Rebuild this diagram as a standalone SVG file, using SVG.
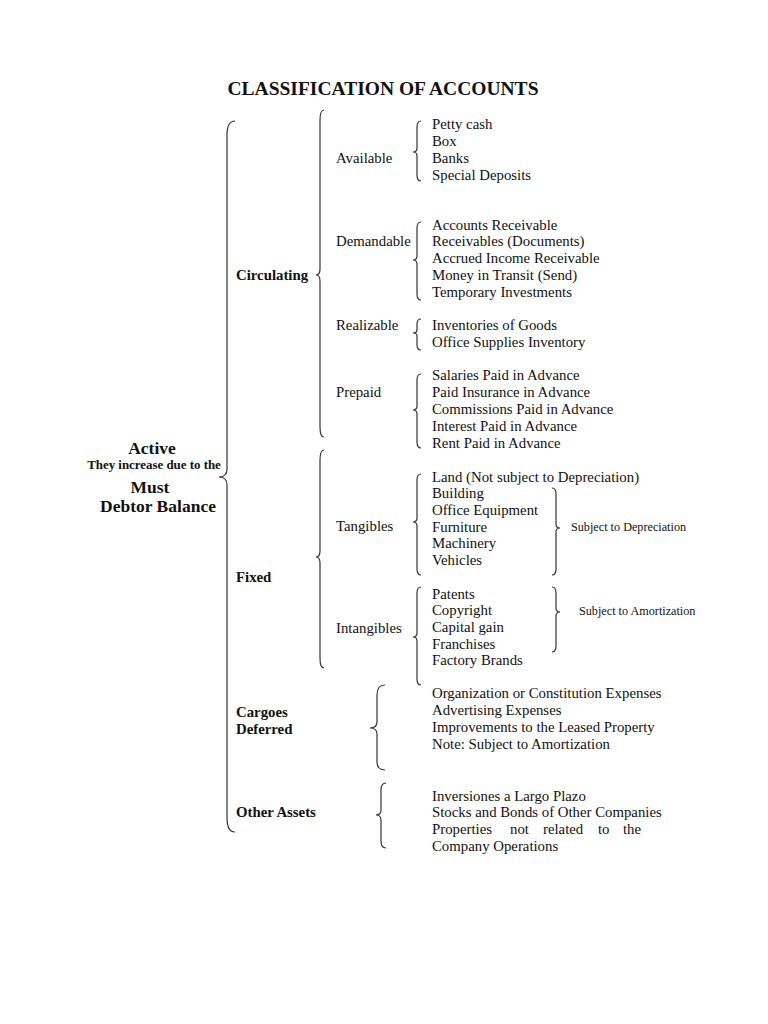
<svg xmlns="http://www.w3.org/2000/svg" width="768" height="1024" viewBox="0 0 768 1024">
<style>
text{font-family:"Liberation Serif","Times New Roman",serif;fill:#111}
.t{font-size:19.5px;font-weight:bold}
.b{font-weight:bold;font-size:14.8px}
.l2{font-size:14.8px}
.it{font-size:14.8px}
.sm{font-size:12.2px}
.br{fill:none;stroke:#333;stroke-width:1.2}
</style>
<rect width="768" height="1024" fill="#fff"/>
<text class="t" x="383" y="95" text-anchor="middle">CLASSIFICATION OF ACCOUNTS</text>
<g id="root">
<text x="152" y="454" text-anchor="middle" style="font-size:17.5px;font-weight:bold">Active</text>
<text x="154" y="469" text-anchor="middle" style="font-size:12.9px;font-weight:bold">They increase due to the</text>
<text x="150" y="493" text-anchor="middle" style="font-size:17.5px;font-weight:bold">Must</text>
<text x="158" y="512" text-anchor="middle" style="font-size:17.5px;font-weight:bold">Debtor Balance</text>
</g>
<g id="circulating"><text class="b" x="236" y="280">Circulating</text></g>
<g id="fixed"><text class="b" x="236" y="582">Fixed</text></g>
<g id="cargoes"><text class="b" x="236" y="717">Cargoes</text><text class="b" x="236" y="734">Deferred</text></g>
<g id="other"><text class="b" x="236" y="817">Other Assets</text></g>
<g id="available"><text class="l2" x="336" y="163">Available</text></g>
<g id="demandable"><text class="l2" x="336" y="246">Demandable</text></g>
<g id="realizable"><text class="l2" x="336" y="330">Realizable</text></g>
<g id="prepaid"><text class="l2" x="336" y="397">Prepaid</text></g>
<g id="tangibles"><text class="l2" x="336" y="531">Tangibles</text></g>
<g id="intangibles"><text class="l2" x="336" y="633">Intangibles</text></g>
<g id="available-items">
<text class="it" x="432" y="129">Petty cash</text>
<text class="it" x="432" y="146">Box</text>
<text class="it" x="432" y="163">Banks</text>
<text class="it" x="432" y="180">Special Deposits</text>
</g>
<g id="demandable-items">
<text class="it" x="432" y="230">Accounts Receivable</text>
<text class="it" x="432" y="246">Receivables (Documents)</text>
<text class="it" x="432" y="263">Accrued Income Receivable</text>
<text class="it" x="432" y="280">Money in Transit (Send)</text>
<text class="it" x="432" y="297">Temporary Investments</text>
</g>
<g id="realizable-items">
<text class="it" x="432" y="330">Inventories of Goods</text>
<text class="it" x="432" y="347">Office Supplies Inventory</text>
</g>
<g id="prepaid-items">
<text class="it" x="432" y="380">Salaries Paid in Advance</text>
<text class="it" x="432" y="397">Paid Insurance in Advance</text>
<text class="it" x="432" y="414">Commissions Paid in Advance</text>
<text class="it" x="432" y="431">Interest Paid in Advance</text>
<text class="it" x="432" y="448">Rent Paid in Advance</text>
</g>
<g id="tangibles-items">
<text class="it" x="432" y="482">Land (Not subject to Depreciation)</text>
<text class="it" x="432" y="498">Building</text>
<text class="it" x="432" y="515">Office Equipment</text>
<text class="it" x="432" y="532">Furniture</text>
<text class="it" x="432" y="548">Machinery</text>
<text class="it" x="432" y="565">Vehicles</text>
</g>
<g id="depreciation"><text class="sm" x="571" y="531">Subject to Depreciation</text></g>
<g id="intangibles-items">
<text class="it" x="432" y="599">Patents</text>
<text class="it" x="432" y="615">Copyright</text>
<text class="it" x="432" y="632">Capital gain</text>
<text class="it" x="432" y="649">Franchises</text>
<text class="it" x="432" y="665">Factory Brands</text>
</g>
<g id="amortization"><text class="sm" x="579" y="615">Subject to Amortization</text></g>
<g id="cargoes-items">
<text class="it" x="432" y="698">Organization or Constitution Expenses</text>
<text class="it" x="432" y="715">Advertising Expenses</text>
<text class="it" x="432" y="732">Improvements to the Leased Property</text>
<text class="it" x="432" y="749">Note: Subject to Amortization</text>
</g>
<g id="other-items">
<text class="it" x="432" y="801">Inversiones a Largo Plazo</text>
<text class="it" x="432" y="817">Stocks and Bonds of Other Companies</text>
<text class="it" y="834"><tspan x="432">Properties</tspan><tspan x="510">not</tspan><tspan x="543">related</tspan><tspan x="598">to</tspan><tspan x="623">the</tspan></text>
<text class="it" x="432" y="851">Company Operations</text>
</g>
<g id="connectors" class="br">
<path class="br" d="M235,121 Q227,121 227,135 L227,469 Q227,477 219,477 Q227,477 227,485 L227,818 Q227,832 235,832"/>
<path class="br" d="M324,110 Q320,110 320,120 L320,269 Q320,275 316,275 Q320,275 320,281 L320,427 Q320,437 324,437"/>
<path class="br" d="M324,450 Q320,450 320,460 L320,551 Q320,557 316,557 Q320,557 320,563 L320,658 Q320,668 324,668"/>
<path class="br" d="M421,121 Q417,121 417,127 L417,148 Q417,152 413,152 Q417,152 417,156 L417,175 Q417,181 421,181"/>
<path class="br" d="M421,222 Q417,222 417,228 L417,256 Q417,260 413,260 Q417,260 417,264 L417,294 Q417,300 421,300"/>
<path class="br" d="M421,319 Q417,319 417,324 L417,330 Q417,333 413,333 Q417,333 417,336 L417,345 Q417,350 421,350"/>
<path class="br" d="M421,374 Q417,374 417,380 L417,406 Q417,410 413,410 Q417,410 417,414 L417,442 Q417,448 421,448"/>
<path class="br" d="M421,474 Q417,474 417,480 L417,518 Q417,522 413,522 Q417,522 417,526 L417,569 Q417,575 421,575"/>
<path class="br" d="M421,587 Q417,587 417,593 L417,633 Q417,637 413,637 Q417,637 417,641 L417,679 Q417,685 421,685"/>
<path class="br" d="M552,488 Q556,488 556,494 L556,524 Q556,528 560,528 Q556,528 556,532 L556,569 Q556,575 552,575"/>
<path class="br" d="M552,587 Q556,587 556,593 L556,608 Q556,612 560,612 Q556,612 556,616 L556,646 Q556,652 552,652"/>
<path class="br" d="M385,685 Q377,685 377,695 L377,722 Q377,728 370,728 Q377,728 377,734 L377,762 Q377,770 385,770"/>
<path class="br" d="M386,783 Q381,783 381,790 L381,810 Q381,815 376,815 Q381,815 381,820 L381,841 Q381,848 386,848"/>
</g>
</svg>
